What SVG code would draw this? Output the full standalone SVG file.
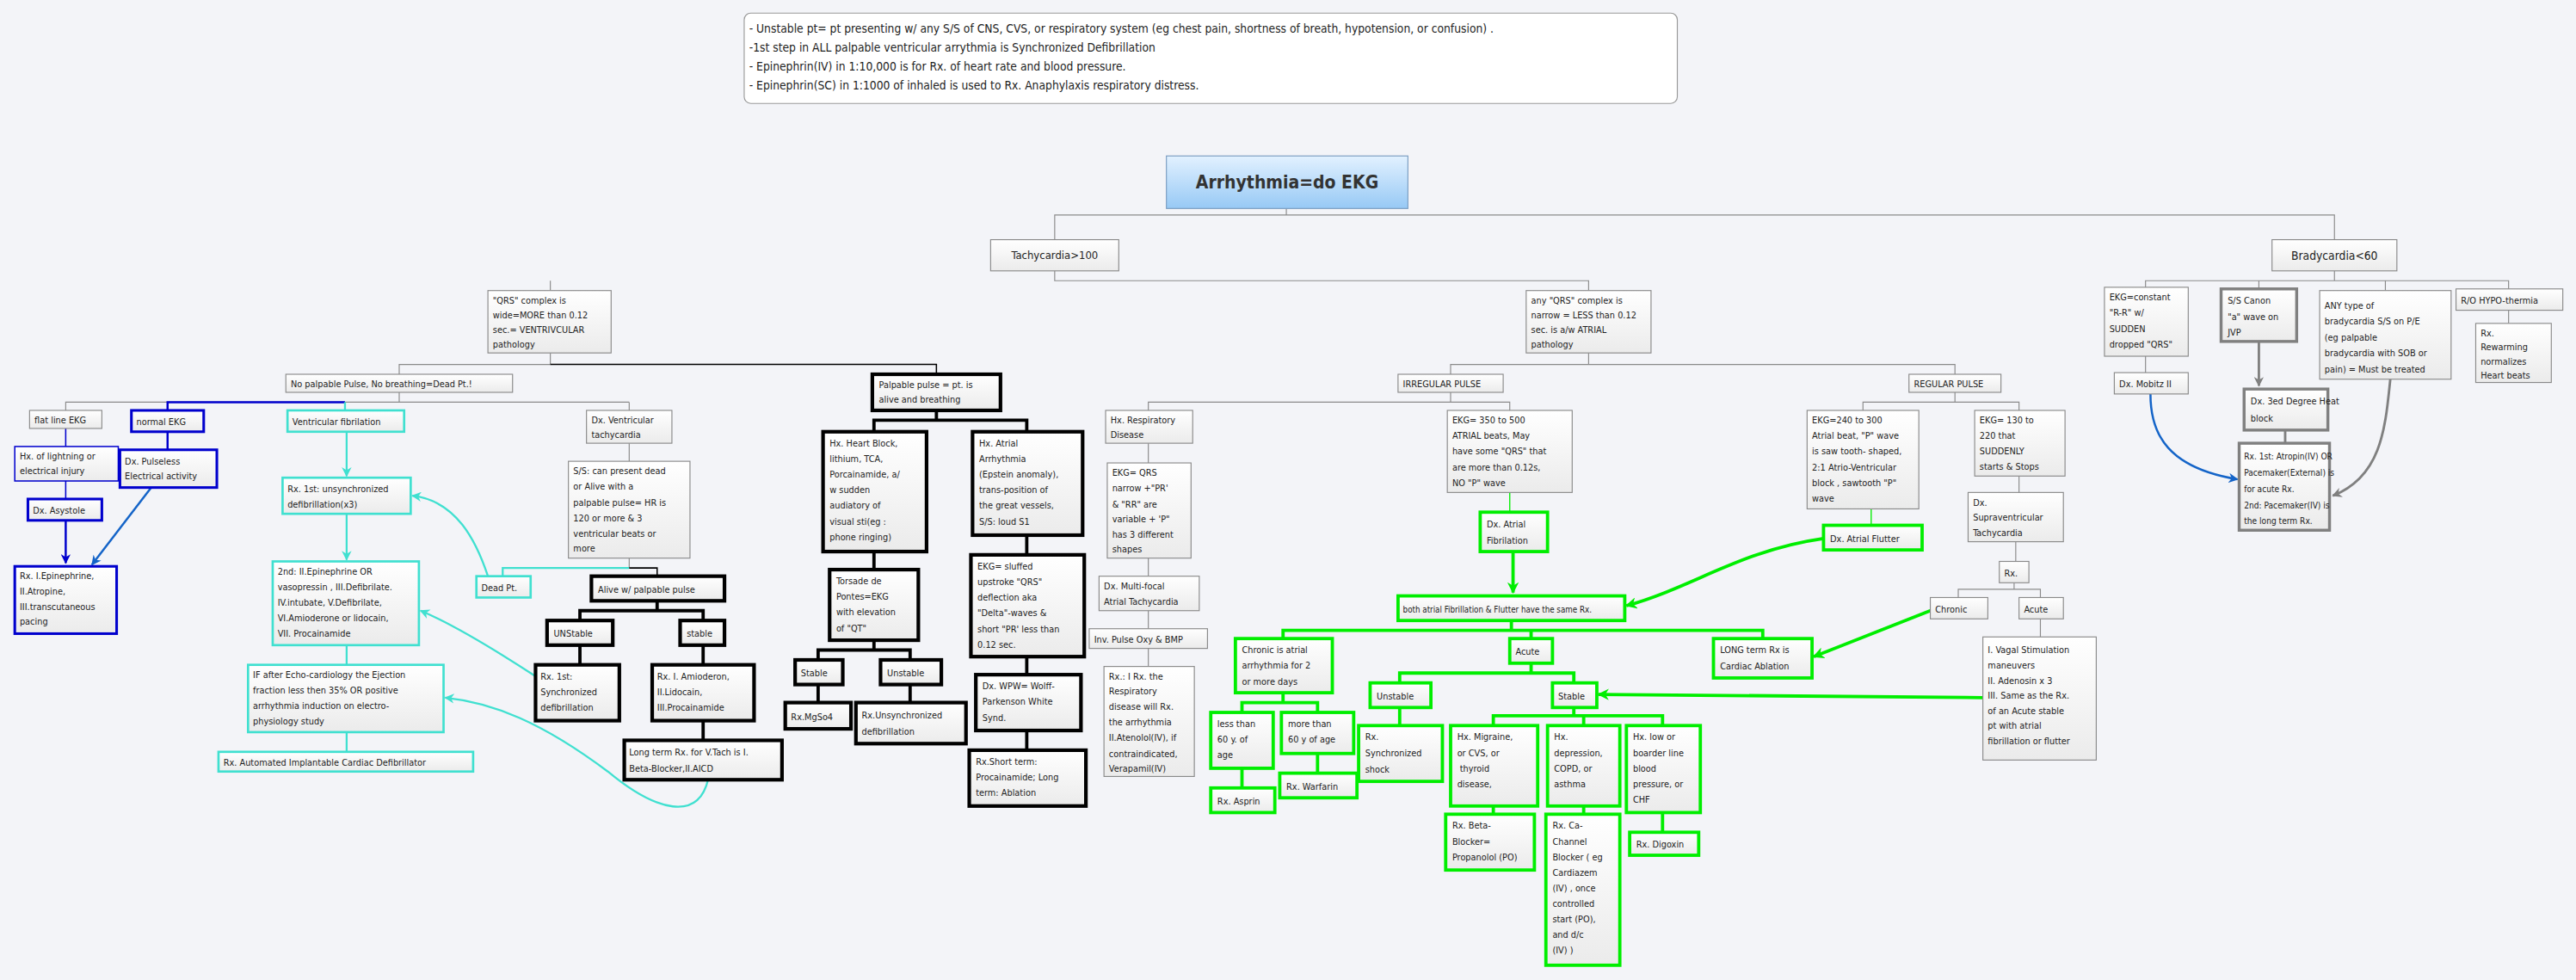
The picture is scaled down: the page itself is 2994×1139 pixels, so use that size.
<svg xmlns="http://www.w3.org/2000/svg" width="2994" height="1139" viewBox="0 0 2994 1139">
<defs>
<linearGradient id="g" x1="0" y1="0" x2="0" y2="1"><stop offset="0" stop-color="#ffffff"/><stop offset="1" stop-color="#ebebeb"/></linearGradient>
<linearGradient id="tg" x1="0" y1="0" x2="0" y2="1"><stop offset="0" stop-color="#e2f1ff"/><stop offset="1" stop-color="#97c9f5"/></linearGradient>
<marker id="mt" viewBox="0 0 10 10" refX="9" refY="5" markerWidth="6" markerHeight="6" orient="auto" markerUnits="userSpaceOnUse"><path d="M0,0L10,5L0,10L3,5z" fill="#40e0d0"/></marker>
<marker id="mb" viewBox="0 0 10 10" refX="9" refY="5" markerWidth="6" markerHeight="6" orient="auto" markerUnits="userSpaceOnUse"><path d="M0,0L10,5L0,10L3,5z" fill="#0000cd"/></marker>
<marker id="mb2" viewBox="0 0 10 10" refX="9" refY="5" markerWidth="6" markerHeight="6" orient="auto" markerUnits="userSpaceOnUse"><path d="M0,0L10,5L0,10L3,5z" fill="#1464c8"/></marker>
<marker id="mg" viewBox="0 0 10 10" refX="9" refY="5" markerWidth="7" markerHeight="7" orient="auto" markerUnits="userSpaceOnUse"><path d="M0,0L10,5L0,10L3,5z" fill="#00ee00"/></marker>
<marker id="my" viewBox="0 0 10 10" refX="9" refY="5" markerWidth="6" markerHeight="6" orient="auto" markerUnits="userSpaceOnUse"><path d="M0,0L10,5L0,10L3,5z" fill="#808080"/></marker>
</defs>
<style>
.n{fill:url(#g);stroke:#8a8a8a;stroke-width:.6}
.k{stroke:#000;stroke-width:2.2}
.b{stroke:#0000cd;stroke-width:1.6}
.bt{stroke:#0000cd;stroke-width:.8}
.t{stroke:#40e0d0;stroke-width:1.4}
.gr{stroke:#00ee00;stroke-width:2}
.gy{stroke:#808080;stroke-width:1.8}
text{font-family:"DejaVu Sans Condensed","Liberation Sans",sans-serif;font-size:5.7px;fill:#222}
.c path{fill:none}
.l{stroke:#8a8a8a;stroke-width:.6}
.lk{stroke:#000;stroke-width:2}
.lk1{stroke:#000;stroke-width:.8}
.lb{stroke:#0000cd;stroke-width:1.3}
.lt{stroke:#40e0d0;stroke-width:1.2}
.lg{stroke:#00ee00;stroke-width:2}
.lg1{stroke:#00ee00;stroke-width:.7}
.ly{stroke:#808080;stroke-width:1.5}
</style>
<rect width="2994" height="1139" fill="#f3f4f8"/>
<g transform="scale(1.9094,1.9079)">
<g class="c" id="connectors">
<path class="l" d="M783,127V131M642,146V131H1421V146"/>
<path class="l" d="M642,165V171H967V177M335,171V177"/>
<path class="l" d="M335,215V222H243V228"/>
<path class="lk1" d="M335,222H570V228"/>
<path class="l" d="M243,239V245H40V250M383,245V250M243,245H383"/>
<path class="lb" d="M102,250V245H210"/>
<path class="lt" d="M210,245V250"/>
<path class="bt" style="fill:none" d="M40,261V272M40,293V304"/>
<path class="lb" d="M40,317V343" marker-end="url(#mb)"/>
<path class="lb" d="M102,263V274"/>
<path class="lb" d="M92,297L56,344" style="stroke:#1464c8" marker-end="url(#mb2)"/>
<path class="lt" d="M211,263V290" marker-end="url(#mt)"/>
<path class="lt" d="M211,313V341" marker-end="url(#mt)"/>
<path class="lt" d="M211,393V405M211,446V458"/>
<path class="l" d="M383,270V281M383,340V346"/>
<path class="lt" d="M383,346H306V351"/>
<path class="lk1" d="M383,346H400V351"/>
<path class="lk" d="M400,366V372M353,378V372H428V378M353,393V405M428,393V405M428,439V451"/>
<path class="lt" d="M297,351C290,330 278,305 251,302" marker-end="url(#mt)"/>
<path class="lt" d="M326,412C300,395 275,380 256,372" marker-end="url(#mt)"/>
<path class="lt" d="M431,475C425,500 400,495 370,470C330,440 300,428 271,425" marker-end="url(#mt)"/>
<path class="lk" d="M570,250V256M532,263V256H625V263M532,336V347M532,390V396M498,402V396H554V402M498,417V428M554,417V428M625,326V338M625,400V411M625,445V457"/>
<path class="l" d="M967,215V222H883V228M967,222H1190V228"/>
<path class="l" d="M883,239V245H699V250M883,245H919V250M699,270V282M699,340V351M699,372V383M699,395V406"/>
<path class="l" d="M1190,239V245H1134V250M1190,245H1229V250M1229,290V300M1227,330V342M1226,355V359H1192V364M1226,359H1242V364M1242,377V388"/>
<path class="lg1" d="M919,300V312M1139,310V320"/>
<path class="lg" d="M921,336V361" marker-end="url(#mg)"/>
<path class="lg" d="M1110,328C1060,335 1030,358 990,369" marker-end="url(#mg)"/>
<path class="lg" d="M1175,372L1104,400" marker-end="url(#mg)"/>
<path class="lg" d="M1207,425L973,423" marker-end="url(#mg)"/>
<path class="lg" d="M920,378V384M781,389V384H1073V389M932,384V389M781,422V428M756,434V428H802V434M756,468V480M802,459V471M932,404V410M852,416V410H958V416M852,431V442M958,431V436M909,442V436H1012V442M964,436V442M909,491V496M964,491V496M1012,495V507"/>
<path class="l" d="M1421,165V171H1306V175M1375,171V176M1452,171V177M1421,171H1527V176M1527,189V197M1306,217V227"/>
<path class="ly" d="M1375,208V235" marker-end="url(#my)"/>
<path class="ly" d="M1391,262V270"/>
<path class="ly" d="M1455,231C1452,260 1450,290 1420,302" marker-end="url(#my)"/>
<path class="lb" style="stroke:#1464c8" d="M1309,240C1309,265 1320,285 1362,292" marker-end="url(#mb2)"/>
</g>

<g id="note"><rect x="453" y="8" width="568" height="55" rx="4" fill="#fff" stroke="#999" stroke-width=".6"/>
<text x="456" style="font-size:7.2px"><tspan y="20">- Unstable pt= pt presenting w/ any S/S of CNS, CVS, or respiratory system (eg chest pain, shortness of breath, hypotension, or confusion) .</tspan><tspan x="456" y="31.5">-1st step in ALL palpable ventricular arrythmia is Synchronized Defibrillation</tspan><tspan x="456" y="43">- Epinephrin(IV) in 1:10,000 is for Rx. of heart rate and blood pressure.</tspan><tspan x="456" y="54.5">- Epinephrin(SC) in 1:1000 of inhaled is used to  Rx.  Anaphylaxis respiratory distress.</tspan></text></g>
<g id="title"><rect x="710" y="95" width="147" height="32" fill="url(#tg)" stroke="#7a9cc0" stroke-width=".6"/><text x="783.5" y="115" text-anchor="middle" style="font-size:11px;font-weight:bold;fill:#333">Arrhythmia=do EKG</text></g>
<g id="tachy"><rect class="n" x="603" y="146" width="78" height="19"/><text x="642" y="158" text-anchor="middle" style="font-size:6.8px">Tachycardia&gt;100</text></g>
<g id="brady"><rect class="n" x="1383" y="146" width="76" height="19"/><text x="1421" y="158.5" text-anchor="middle" style="font-size:7.2px">Bradycardia&lt;60</text></g>

<g id="qrswide"><rect class="n" x="297" y="177" width="75" height="38"/><text x="300"><tspan y="185">"QRS" complex is</tspan><tspan x="300" y="194">wide=MORE than 0.12</tspan><tspan x="300" y="203">sec.= VENTRIVCULAR</tspan><tspan x="300" y="212">pathology</tspan></text></g>
<g id="qrsnarrow"><rect class="n" x="929" y="177" width="76" height="38"/><text x="932"><tspan y="185">any "QRS" complex is</tspan><tspan x="932" y="194">narrow = LESS than 0.12</tspan><tspan x="932" y="203">sec. is a/w ATRIAL</tspan><tspan x="932" y="212">pathology</tspan></text></g>
<g id="nopulse"><rect class="n" x="174" y="228" width="138" height="11"/><text x="177" y="236">No palpable Pulse, No breathing=Dead Pt.!</text></g>
<g id="palpable"><rect class="n k" x="531" y="228" width="78" height="22"/><text x="535"><tspan y="236.5">Palpable pulse = pt. is</tspan><tspan x="535" y="245.5">alive and breathing</tspan></text></g>
<g id="irregular"><rect class="n" x="851" y="228" width="64" height="11"/><text x="854" y="236">IRREGULAR PULSE</text></g>
<g id="regular"><rect class="n" x="1162" y="228" width="56" height="11"/><text x="1165" y="236">REGULAR PULSE</text></g>

<g id="flatline"><rect class="n" x="18" y="250" width="44" height="11"/><text x="21" y="258">flat line EKG</text></g>
<g id="normalekg"><rect class="n b" x="80" y="250" width="44" height="13"/><text x="83" y="259">normal EKG</text></g>
<g id="vfib"><rect class="n t" x="175" y="250" width="71" height="13"/><text x="178" y="259">Ventricular fibrilation</text></g>
<g id="dxvt"><rect class="n" x="357" y="250" width="52" height="20"/><text x="360"><tspan y="258">Dx. Ventricular</tspan><tspan x="360" y="267">tachycardia</tspan></text></g>
<g id="hxlight"><rect class="n bt" x="9" y="272" width="63" height="21"/><text x="12"><tspan y="280">Hx. of lightning or</tspan><tspan x="12" y="289">electrical  injury</tspan></text></g>
<g id="dxpea"><rect class="n b" x="73" y="274" width="59" height="23"/><text x="76"><tspan y="283">Dx. Pulseless</tspan><tspan x="76" y="292">Electrical activity</tspan></text></g>
<g id="dxasys"><rect class="n b" x="17" y="304" width="45" height="13"/><text x="20" y="313">Dx. Asystole</text></g>
<g id="rxepi"><rect class="n b" x="9" y="345" width="62" height="41"/><text x="12"><tspan y="353">Rx. I.Epinephrine,</tspan><tspan x="12" y="362">II.Atropine,</tspan><tspan x="12" y="371.5">III.transcutaneous</tspan><tspan x="12" y="380.5">pacing</tspan></text></g>
<g id="rxunsync"><rect class="n t" x="172" y="291" width="78" height="22"/><text x="175"><tspan y="300">Rx. 1st: unsynchronized</tspan><tspan x="175" y="309">defibrillation(x3)</tspan></text></g>
<g id="second"><rect class="n t" x="166" y="342" width="89" height="51"/><text x="169"><tspan y="350">2nd: II.Epinephrine OR</tspan><tspan x="169" y="359.5">vasopressin , III.Defibrilate.</tspan><tspan x="169" y="369">IV.intubate, V.Defibrilate,</tspan><tspan x="169" y="378.5">VI.Amioderone or lidocain,</tspan><tspan x="169" y="388">VII. Procainamide</tspan></text></g>
<g id="ifecho"><rect class="n t" x="151" y="405" width="119" height="41"/><text x="154"><tspan y="413">IF after Echo-cardiology the Ejection</tspan><tspan x="154" y="422.5">fraction less then 35% OR positive</tspan><tspan x="154" y="432">arrhythmia induction on electro-</tspan><tspan x="154" y="441.5">physiology study</tspan></text></g>
<g id="aicd"><rect class="n t" x="133" y="458" width="155" height="12"/><text x="136" y="466.5">Rx. Automated Implantable Cardiac Defibrillator</text></g>
<g id="ssdead"><rect class="n" x="346" y="281" width="74" height="59"/><text x="349"><tspan y="289">S/S: can present dead</tspan><tspan x="349" y="298.5">or Alive with a</tspan><tspan x="349" y="308">palpable pulse= HR is</tspan><tspan x="349" y="317.5">120 or more &amp; 3</tspan><tspan x="349" y="327">ventricular beats or</tspan><tspan x="349" y="336">more</tspan></text></g>
<g id="deadpt"><rect class="n t" x="290" y="351" width="33" height="13"/><text x="293" y="360">Dead Pt.</text></g>
<g id="alive"><rect class="n k" x="360" y="351" width="81" height="15"/><text x="364" y="361">Alive w/ palpable pulse</text></g>
<g id="unstablevt"><rect class="n k" x="333" y="378" width="40" height="15"/><text x="337" y="388">UNStable</text></g>
<g id="stablevt"><rect class="n k" x="414" y="378" width="27" height="15"/><text x="418" y="388">stable</text></g>
<g id="rxsync"><rect class="n k" x="326" y="405" width="51" height="34"/><text x="329"><tspan y="414">Rx. 1st:</tspan><tspan x="329" y="423.5">Synchronized</tspan><tspan x="329" y="433">defibrillation</tspan></text></g>
<g id="rxamio"><rect class="n k" x="397" y="405" width="62" height="34"/><text x="400"><tspan y="414">Rx. I. Amioderon,</tspan><tspan x="400" y="423.5">II.Lidocain,</tspan><tspan x="400" y="433">III.Procainamide</tspan></text></g>
<g id="longvt"><rect class="n k" x="380" y="451" width="96" height="24"/><text x="383"><tspan y="460">Long term Rx. for V.Tach is I.</tspan><tspan x="383" y="470">Beta-Blocker,II.AICD</tspan></text></g>

<g id="hxhb"><rect class="n k" x="501" y="263" width="63" height="73"/><text x="505"><tspan y="272">Hx. Heart Block,</tspan><tspan x="505" y="281.5">lithium, TCA,</tspan><tspan x="505" y="291">Porcainamide, a/</tspan><tspan x="505" y="300.5">w sudden</tspan><tspan x="505" y="310">audiatory of</tspan><tspan x="505" y="319.5">visual sti(eg :</tspan><tspan x="505" y="329">phone ringing)</tspan></text></g>
<g id="hxatrial"><rect class="n k" x="592" y="263" width="67" height="63"/><text x="596"><tspan y="272">Hx. Atrial</tspan><tspan x="596" y="281.5">Arrhythmia</tspan><tspan x="596" y="291">(Epstein anomaly),</tspan><tspan x="596" y="300.5">trans-position of</tspan><tspan x="596" y="310">the great vessels,</tspan><tspan x="596" y="319.5">S/S: loud S1</tspan></text></g>
<g id="torsade"><rect class="n k" x="505" y="347" width="54" height="43"/><text x="509"><tspan y="356">Torsade de</tspan><tspan x="509" y="365.5">Pontes=EKG</tspan><tspan x="509" y="375">with elevation</tspan><tspan x="509" y="384.5">of "QT"</tspan></text></g>
<g id="stabletd"><rect class="n k" x="484" y="402" width="29" height="15"/><text x="487.5" y="412">Stable</text></g>
<g id="unstabletd"><rect class="n k" x="536" y="402" width="37" height="15"/><text x="540" y="412">Unstable</text></g>
<g id="mgso4"><rect class="n k" x="478" y="428" width="40" height="16"/><text x="481.5" y="438.5">Rx.MgSo4</text></g>
<g id="rxunsync2"><rect class="n k" x="521" y="428" width="67" height="25"/><text x="524.5"><tspan y="437.5">Rx.Unsynchronized</tspan><tspan x="524.5" y="447.5">defibrillation</tspan></text></g>
<g id="sluffed"><rect class="n k" x="591" y="338" width="69" height="62"/><text x="595"><tspan y="347">EKG= sluffed</tspan><tspan x="595" y="356.5">upstroke "QRS"</tspan><tspan x="595" y="366">deflection aka</tspan><tspan x="595" y="375.5">"Delta"-waves &amp;</tspan><tspan x="595" y="385">short "PR' less than</tspan><tspan x="595" y="394.5">0.12 sec.</tspan></text></g>
<g id="wpw"><rect class="n k" x="594" y="411" width="64" height="34"/><text x="598"><tspan y="420">Dx. WPW= Wolff-</tspan><tspan x="598" y="429.5">Parkenson White</tspan><tspan x="598" y="439">Synd.</tspan></text></g>
<g id="shortterm"><rect class="n k" x="590" y="457" width="71" height="34"/><text x="594"><tspan y="466">Rx.Short term:</tspan><tspan x="594" y="475.5">Procainamide; Long</tspan><tspan x="594" y="485">term: Ablation</tspan></text></g>

<g id="hxresp"><rect class="n" x="673" y="250" width="53" height="20"/><text x="676"><tspan y="258">Hx. Respiratory</tspan><tspan x="676" y="267">Disease</tspan></text></g>
<g id="ekgmat"><rect class="n" x="674" y="282" width="51" height="58"/><text x="677"><tspan y="290">EKG= QRS</tspan><tspan x="677" y="299.5">narrow +"PR'</tspan><tspan x="677" y="309">&amp; "RR" are</tspan><tspan x="677" y="318">variable + 'P"</tspan><tspan x="677" y="327.5">has 3 different</tspan><tspan x="677" y="336.5">shapes</tspan></text></g>
<g id="mat"><rect class="n" x="669" y="351" width="61" height="21"/><text x="672"><tspan y="359">Dx. Multi-focal</tspan><tspan x="672" y="368.5">Atrial Tachycardia</tspan></text></g>
<g id="pulseoxy"><rect class="n" x="663" y="383" width="72" height="12"/><text x="666" y="391.5">Inv. Pulse Oxy &amp; BMP</text></g>
<g id="rxresp"><rect class="n" x="672" y="406" width="55" height="67"/><text x="675"><tspan y="414">Rx.: I Rx. the</tspan><tspan x="675" y="423">Respiratory</tspan><tspan x="675" y="432.5">disease will Rx.</tspan><tspan x="675" y="442">the arrhythmia</tspan><tspan x="675" y="451.5">II.Atenolol(IV), if</tspan><tspan x="675" y="461">contraindicated,</tspan><tspan x="675" y="470">Verapamil(IV)</tspan></text></g>

<g id="ekg350"><rect class="n" x="881" y="250" width="76" height="50"/><text x="884"><tspan y="258">EKG= 350 to 500</tspan><tspan x="884" y="267.5">ATRIAL beats, May</tspan><tspan x="884" y="277">have some "QRS" that</tspan><tspan x="884" y="286.5">are more than 0.12s,</tspan><tspan x="884" y="296">NO "P" wave</tspan></text></g>
<g id="dxafib"><rect class="n gr" x="901" y="312" width="41" height="24"/><text x="905"><tspan y="321.5">Dx. Atrial</tspan><tspan x="905" y="331">Fibrilation</tspan></text></g>
<g id="ekg240"><rect class="n" x="1100" y="250" width="68" height="60"/><text x="1103"><tspan y="258">EKG=240 to 300</tspan><tspan x="1103" y="267.5">Atrial beat, "P" wave</tspan><tspan x="1103" y="277">is saw tooth- shaped,</tspan><tspan x="1103" y="286.5">2:1 Atrio-Ventricular</tspan><tspan x="1103" y="296">block , sawtooth "P"</tspan><tspan x="1103" y="305.5">wave</tspan></text></g>
<g id="dxflutter"><rect class="n gr" x="1110" y="320" width="60" height="15"/><text x="1114" y="330">Dx. Atrial Flutter</text></g>
<g id="ekg130"><rect class="n" x="1202" y="250" width="55" height="40"/><text x="1205"><tspan y="258">EKG= 130 to</tspan><tspan x="1205" y="267.5">220 that</tspan><tspan x="1205" y="277">SUDDENLY</tspan><tspan x="1205" y="286">starts &amp; Stops</tspan></text></g>
<g id="svt"><rect class="n" x="1198" y="300" width="58" height="30"/><text x="1201"><tspan y="308">Dx.</tspan><tspan x="1201" y="317">Supraventricular</tspan><tspan x="1201" y="326.5">Tachycardia</tspan></text></g>
<g id="rxsvt"><rect class="n" x="1217" y="342" width="18" height="13"/><text x="1220" y="351">Rx.</text></g>
<g id="chronicsvt"><rect class="n" x="1175" y="364" width="35" height="13"/><text x="1178" y="373">Chronic</text></g>
<g id="acutesvt"><rect class="n" x="1229" y="364" width="27" height="13"/><text x="1232" y="373">Acute</text></g>
<g id="vagal"><rect class="n" x="1207" y="388" width="69" height="75"/><text x="1210"><tspan y="398">I. Vagal Stimulation</tspan><tspan x="1210" y="407">maneuvers</tspan><tspan x="1210" y="416.5">II. Adenosin x 3</tspan><tspan x="1210" y="425.5">III. Same as the Rx.</tspan><tspan x="1210" y="435">of an Acute stable</tspan><tspan x="1210" y="444">pt with atrial</tspan><tspan x="1210" y="453.5">fibrillation or flutter</tspan></text></g>

<g id="both"><rect class="n gr" x="851" y="363" width="138" height="15"/><text x="854" y="373" style="font-size:5.1px">both atrial Fibrillation &amp; Flutter have the same Rx.</text></g>
<g id="chronicaf"><rect class="n gr" x="752" y="389" width="59" height="33"/><text x="756"><tspan y="398">Chronic is atrial</tspan><tspan x="756" y="407.5">arrhythmia for 2</tspan><tspan x="756" y="417">or more days</tspan></text></g>
<g id="acuteaf"><rect class="n gr" x="919" y="389" width="26" height="15"/><text x="922.5" y="399">Acute</text></g>
<g id="ablation"><rect class="n gr" x="1043" y="389" width="60" height="24"/><text x="1047"><tspan y="398">LONG term Rx is</tspan><tspan x="1047" y="408">Cardiac Ablation</tspan></text></g>
<g id="less60"><rect class="n gr" x="737" y="434" width="38" height="34"/><text x="741"><tspan y="443">less than</tspan><tspan x="741" y="452.5">60 y. of</tspan><tspan x="741" y="462">age</tspan></text></g>
<g id="more60"><rect class="n gr" x="780" y="434" width="44" height="25"/><text x="784"><tspan y="443">more than</tspan><tspan x="784" y="452.5">60 y of age</tspan></text></g>
<g id="asprin"><rect class="n gr" x="737" y="480" width="39" height="15"/><text x="741" y="490">Rx. Asprin</text></g>
<g id="warfarin"><rect class="n gr" x="779" y="471" width="47" height="15"/><text x="783" y="481">Rx. Warfarin</text></g>
<g id="unstableaf"><rect class="n gr" x="834" y="416" width="37" height="15"/><text x="838" y="426">Unstable</text></g>
<g id="stableaf"><rect class="n gr" x="945" y="416" width="27" height="15"/><text x="948.5" y="426">Stable</text></g>
<g id="syncshock"><rect class="n gr" x="827" y="442" width="51" height="34"/><text x="831"><tspan y="451">Rx.</tspan><tspan x="831" y="460.5">Synchronized</tspan><tspan x="831" y="470.5">shock</tspan></text></g>
<g id="migraine"><rect class="n gr" x="883" y="442" width="53" height="49"/><text x="887"><tspan y="451">Hx. Migraine,</tspan><tspan x="887" y="460.5">or CVS, or</tspan><tspan x="887" y="470"> thyroid</tspan><tspan x="887" y="479.5">disease,</tspan></text></g>
<g id="depression"><rect class="n gr" x="942" y="442" width="44" height="49"/><text x="946"><tspan y="451">Hx.</tspan><tspan x="946" y="460.5">depression,</tspan><tspan x="946" y="470">COPD, or</tspan><tspan x="946" y="479.5">asthma</tspan></text></g>
<g id="lowbp"><rect class="n gr" x="990" y="442" width="45" height="53"/><text x="994"><tspan y="451">Hx. low or</tspan><tspan x="994" y="460.5">boarder line</tspan><tspan x="994" y="470">blood</tspan><tspan x="994" y="479.5">pressure, or</tspan><tspan x="994" y="489">CHF</tspan></text></g>
<g id="beta"><rect class="n gr" x="880" y="496" width="54" height="34"/><text x="884"><tspan y="505">Rx. Beta-</tspan><tspan x="884" y="514.5">Blocker=</tspan><tspan x="884" y="524">Propanolol (PO)</tspan></text></g>
<g id="cachannel"><rect class="n gr" x="941" y="496" width="45" height="92"/><text x="945"><tspan y="505">Rx. Ca-</tspan><tspan x="945" y="514.5">Channel</tspan><tspan x="945" y="524">Blocker ( eg</tspan><tspan x="945" y="533.5">Cardiazem</tspan><tspan x="945" y="543">(IV) , once</tspan><tspan x="945" y="552.5">controlled</tspan><tspan x="945" y="562">start (PO),</tspan><tspan x="945" y="571.5">and d/c</tspan><tspan x="945" y="581">(IV) )</tspan></text></g>
<g id="digoxin"><rect class="n gr" x="992" y="507" width="42" height="14"/><text x="996" y="516.5">Rx. Digoxin</text></g>

<g id="ekgconst"><rect class="n" x="1281" y="175" width="51" height="42"/><text x="1284"><tspan y="183">EKG=constant</tspan><tspan x="1284" y="192.5">"R-R" w/</tspan><tspan x="1284" y="202.5">SUDDEN</tspan><tspan x="1284" y="212">dropped "QRS"</tspan></text></g>
<g id="canon"><rect class="n gy" x="1352" y="176" width="46" height="32"/><text x="1356"><tspan y="185">S/S Canon</tspan><tspan x="1356" y="195">"a" wave on</tspan><tspan x="1356" y="204.5">JVP</tspan></text></g>
<g id="anytype"><rect class="n" x="1412" y="177" width="80" height="54"/><text x="1415"><tspan y="188">ANY type of</tspan><tspan x="1415" y="197.5">bradycardia  S/S on P/E</tspan><tspan x="1415" y="207.5">(eg palpable</tspan><tspan x="1415" y="217">bradycardia with SOB or</tspan><tspan x="1415" y="227">pain) = Must be treated</tspan></text></g>
<g id="hypo"><rect class="n" x="1495" y="176" width="65" height="13"/><text x="1498" y="185">R/O HYPO-thermia</text></g>
<g id="rewarm"><rect class="n" x="1507" y="197" width="46" height="36"/><text x="1510"><tspan y="205">Rx.</tspan><tspan x="1510" y="213.5">Rewarming</tspan><tspan x="1510" y="222">normalizes</tspan><tspan x="1510" y="230.5">Heart beats</tspan></text></g>
<g id="mobitz"><rect class="n" x="1287" y="227" width="45" height="13"/><text x="1290" y="236">Dx. Mobitz II</text></g>
<g id="thirddeg"><rect class="n gy" x="1366" y="237" width="51" height="25"/><text x="1370"><tspan y="246.5">Dx. 3ed Degree Heat</tspan><tspan x="1370" y="257">block</tspan></text></g>
<g id="atropin"><rect class="n gy" x="1363" y="270" width="55" height="53"/><text x="1366" style="font-size:5.3px"><tspan y="280">Rx. 1st: Atropin(IV) OR</tspan><tspan x="1366" y="290">Pacemaker(External) is</tspan><tspan x="1366" y="300">for acute Rx.</tspan><tspan x="1366" y="310">2nd: Pacemaker(IV) is</tspan><tspan x="1366" y="319">the long term Rx.</tspan></text></g>
</g>
</svg>
